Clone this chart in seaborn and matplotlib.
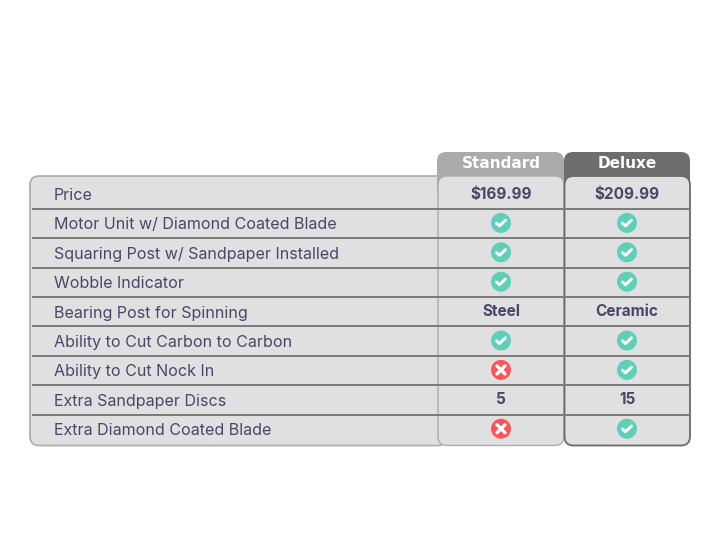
"""Feature comparison table, Standard vs Deluxe."""

import pandas as pd
import matplotlib.pyplot as plt
import seaborn as sns
from matplotlib.patches import FancyBboxPatch

plans = ["Standard", "Deluxe"]
features = [
    "Price",
    "Motor Unit w/ Diamond Coated Blade",
    "Squaring Post w/ Sandpaper Installed",
    "Wobble Indicator",
    "Bearing Post for Spinning",
    "Ability to Cut Carbon to Carbon",
    "Ability to Cut Nock In",
    "Extra Sandpaper Discs",
    "Extra Diamond Coated Blade",
]
standard_vals = ["$169.99", "yes", "yes", "yes", "Steel", "yes", "no", "5", "no"]
deluxe_vals = ["$209.99", "yes", "yes", "yes", "Ceramic", "yes", "yes", "15", "yes"]

TEXT = "#4b4569"
GREEN = "#5fcfb8"
RED = "#fb5558"
FILL = "#e0e0e0"

# layout in pixels of the 720x558 picture
ROW0 = 194.0
ROW_H = 29.4
COL_X = {"Standard": 501, "Deluxe": 627}


def round_box(ax, x0, y0, x1, y1, color, edge, lw, z, r=9):
    box = FancyBboxPatch((x0 + r, y0 + r), x1 - x0 - 2 * r, y1 - y0 - 2 * r,
                         boxstyle=f"round,pad={r},rounding_size={r}",
                         facecolor=color, edgecolor=edge, linewidth=lw, zorder=z)
    ax.add_patch(box)


sns.set_theme(style="white")
plt.rcParams["font.family"] = ["Inter", "DejaVu Sans"]

fig = plt.figure(figsize=(7.2, 5.58), dpi=100)
ax = fig.add_axes([0, 0, 1, 1])
ax.set_xlim(0, 720)
ax.set_ylim(558, 0)
ax.axis("off")

# panels and header tabs
round_box(ax, 30, 176, 447, 445.5, FILL, "#b0b0b0", 1.3, 1)
round_box(ax, 437, 152, 564, 200, "#ababab", "none", 0, 2)
round_box(ax, 564, 152, 690, 200, "#6e6e6e", "none", 0, 2)
round_box(ax, 438, 176, 564, 445.5, FILL, "#adadad", 1.0, 3)
round_box(ax, 564.5, 176, 690, 445.5, FILL, "#6a6a6a", 1.3, 3)
ax.hlines([ROW0 + ROW_H * (i + 0.5) for i in range(len(features) - 1)], 32, 689,
          color="#7a7a7a", linewidth=1.4, zorder=4)

for plan in plans:
    ax.text(COL_X[plan], 163, plan, color="white", fontsize=11, fontweight="bold",
            ha="center", va="center", zorder=5, fontfamily="DejaVu Sans")

for i, name in enumerate(features):
    ax.text(54, ROW0 + ROW_H * i + 1.5, name, color=TEXT, fontsize=11.55,
            ha="left", va="center", zorder=5)

rows = []
for plan, vals in zip(plans, [standard_vals, deluxe_vals]):
    for i, v in enumerate(vals):
        rows.append({"plan": plan, "x": COL_X[plan], "y": ROW0 + ROW_H * i - 0.5, "value": v})
df = pd.DataFrame(rows)

icons = df[df["value"].isin(["yes", "no"])]
sns.scatterplot(data=icons, x="x", y="y", hue="value", palette={"yes": GREEN, "no": RED},
                s=207, linewidth=0, legend=False, ax=ax, zorder=5)

# white glyphs on top of the circles
for _, r in icons.iterrows():
    x, y = r["x"], r["y"]
    if r["value"] == "yes":
        ax.plot([x - 4.5, x - 1.5, x + 4.5], [y + 0.3, y + 3, y - 2.7], color="white",
                linewidth=2.1, solid_capstyle="round", solid_joinstyle="round", zorder=6)
    else:
        ax.plot([x - 4, x + 4], [y - 4, y + 4], color="white", linewidth=2.4,
                solid_capstyle="round", zorder=6)
        ax.plot([x - 4, x + 4], [y + 4, y - 4], color="white", linewidth=2.4,
                solid_capstyle="round", zorder=6)

for _, r in df[~df["value"].isin(["yes", "no"])].iterrows():
    ax.text(r["x"], r["y"] + 0.5, r["value"], color=TEXT, fontsize=11, fontweight="bold",
            ha="center", va="center", zorder=5)

fig.savefig("out.png", dpi=100)
plt.close(fig)
